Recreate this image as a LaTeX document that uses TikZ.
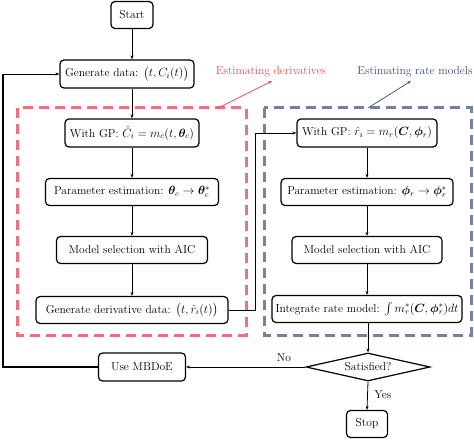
\documentclass[tikz,border=0pt]{standalone}
\usepackage{amsmath,bm}
\usetikzlibrary{shapes.geometric,arrows.meta}
\definecolor{dred}{RGB}{242,112,122}
\definecolor{dblue}{RGB}{115,130,160}
\definecolor{tred}{RGB}{232,78,90}
\definecolor{tblue}{RGB}{60,75,120}
\begin{document}
\begin{tikzpicture}[x=1pt,y=-1pt,
  font=\fontsize{11.5}{13}\selectfont,
  box/.style={draw,rounded corners=4pt,line width=1.2pt,minimum height=27pt,inner sep=2pt},
  dia/.style={draw,diamond,line width=1.2pt,shape aspect=4.4,minimum width=124pt,minimum height=28pt,inner sep=0pt},
  flow/.style={line width=0.8pt,-{Stealth[length=4pt,width=3pt]}},
  back/.style={line width=1.6pt},
  reddash/.style={draw=dred,line width=3pt,dash pattern=on 10pt off 6pt},
  bluedash/.style={draw=dblue,line width=3pt,dash pattern=on 10pt off 6pt},
  lab/.style={inner sep=1pt}
]
\useasboundingbox (0,0) rectangle (474,441);
% dashed groups
\draw[reddash] (17,108) rectangle (246,335);
\draw[bluedash] (264,108) rectangle (471,335);
% nodes
\node[box,minimum width=42pt] (start) at (132,15) {Start};
\node[box,minimum width=134pt,minimum height=28pt] (gen) at (127,74) {Generate data: $\bigl(t,C_i(t)\bigr)$};
\node[box,minimum width=134pt,minimum height=28pt] (gpc) at (132,133) {With GP: $\hat{C}_i=m_c(t,\bm{\theta}_c)$};
\node[box,minimum width=173pt] (pec) at (132,192) {Parameter estimation: $\bm{\theta}_c\rightarrow\bm{\theta}_c^*$};
\node[box,minimum width=151pt] (msc) at (132,250) {Model selection with AIC};
\node[box,minimum width=192pt] (gdd) at (132,310) {Generate derivative data: $\bigl(t,\hat{r}_i(t)\bigr)$};
\node[box,minimum width=140pt,minimum height=28pt] (gpr) at (367,133) {With GP: $\hat{r}_i=m_r(\bm{C},\bm{\phi}_r)$};
\node[box,minimum width=172pt] (per) at (367,192) {Parameter estimation: $\bm{\phi}_r\rightarrow\bm{\phi}_r^*$};
\node[box,minimum width=150pt] (msr) at (367,250) {Model selection with AIC};
\node[box,minimum width=190pt] (irm) at (367,309) {Integrate rate model: $\int m_r^*(\bm{C},\bm{\phi}_r^*)dt$};
\node[dia] (sat) at (368,367) {Satisfied?};
\node[box,minimum width=87pt,minimum height=28pt] (mbd) at (142,367) {Use MBDoE};
\node[box,minimum width=41pt] (stop) at (367,424) {Stop};
% group labels
\node[lab,text=tred] (lred) at (271,72) {Estimating derivatives};
\node[lab,text=tblue] (lblue) at (415,72) {Estimating rate models};
\coordinate (rtail) at (218,108);
\coordinate (rhead) at (272,81);
\coordinate (btail) at (368,108);
\coordinate (bhead) at (411,81);
\draw[draw=tred,line width=0.7pt,-{Stealth[length=4pt,width=3pt]}] (rtail) -- (rhead);
\draw[draw=tblue,line width=0.7pt,-{Stealth[length=4pt,width=3pt]}] (btail) -- (bhead);
% connectors
\draw[flow] (start.south) -- (start.south |- gen.north);
\draw[flow] (gen.south -| gpc.north) -- (gpc.north);
\draw[flow] (gpc) -- (pec);
\draw[flow] (pec) -- (msc);
\draw[flow] (msc) -- (gdd);
\coordinate (jx) at (255,310);
\draw[flow] (gdd.east) -- (jx) |- (gpr.west);
\draw[flow] (gpr) -- (per);
\draw[flow] (per) -- (msr);
\draw[flow] (msr) -- (irm);
\draw[flow] (irm.south -| sat.north) -- (sat.north);
\draw[flow] (sat.west) -- node[pos=0.18,above=2pt]{No} (mbd.east);
\draw[flow] (sat.south) -- node[pos=0.45,right=3pt]{Yes} (stop.north);
\coordinate (lx) at (3,367);
\coordinate (ly) at (3,74);
\draw[back] (mbd.west) -- (lx) -- (ly);
\draw[flow] (ly) -- (gen.west);
\end{tikzpicture}
\end{document}
